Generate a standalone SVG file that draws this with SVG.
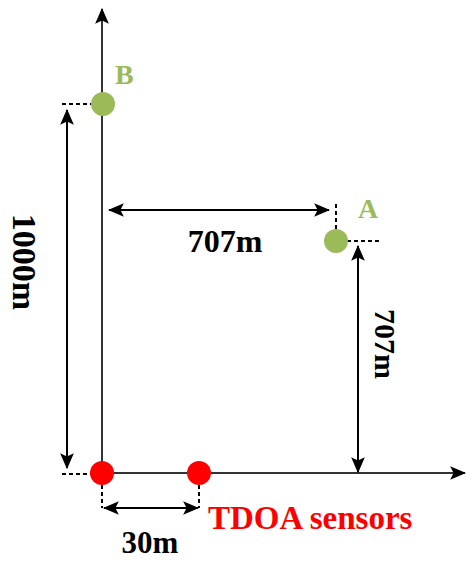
<svg xmlns="http://www.w3.org/2000/svg" width="474" height="564" viewBox="0 0 474 564">
<style>
.axis{stroke:#333;stroke-width:2;fill:none}
.dim{stroke:#000;stroke-width:2;fill:none}
.dash{stroke:#000;stroke-width:2;stroke-dasharray:4,3;fill:none}
.lbl{font-family:"Liberation Serif","Times New Roman",serif;font-weight:bold}
.green{fill:#9BBB59}
.red{fill:#FF0000}
</style>
<defs>
<marker id="ah" markerUnits="userSpaceOnUse" markerWidth="16" markerHeight="16" viewBox="0 0 14 14" refX="13" refY="7" orient="auto-start-reverse">
<path d="M0,1 L14,7 L0,13 L3,7 Z" fill="#000"/>
</marker>
</defs>
<rect width="474" height="564" fill="#fff"/>
<g id="connectors">
<line class="axis" x1="102" y1="473" x2="102" y2="9" marker-end="url(#ah)"/>
<line class="axis" x1="102" y1="473" x2="465" y2="473" marker-end="url(#ah)"/>
<line class="dim" x1="67" y1="110" x2="67" y2="468" marker-start="url(#ah)" marker-end="url(#ah)"/>
<line class="dim" x1="109" y1="210" x2="329" y2="210" marker-start="url(#ah)" marker-end="url(#ah)"/>
<line class="dim" x1="358" y1="246" x2="358" y2="472" marker-start="url(#ah)" marker-end="url(#ah)"/>
<line class="dim" x1="104" y1="508" x2="198" y2="508" marker-start="url(#ah)" marker-end="url(#ah)"/>
<line class="dash" x1="62" y1="104" x2="92" y2="104"/>
<line class="dash" x1="336" y1="204" x2="336" y2="230"/>
<line class="dash" x1="347" y1="241" x2="379" y2="241"/>
<line class="dash" x1="62" y1="474" x2="91" y2="474"/>
<line class="dash" x1="102" y1="485" x2="102" y2="508"/>
<line class="dash" x1="199" y1="485" x2="199" y2="508"/>
</g>
<g id="nodeB">
<circle class="green" cx="103" cy="104" r="12"/>
<text class="lbl green" x="115" y="84" font-size="28">B</text>
</g>
<g id="nodeA">
<circle class="green" cx="336" cy="241" r="12"/>
<text class="lbl green" x="358" y="218" font-size="28">A</text>
</g>
<g id="sensor1">
<circle class="red" cx="102" cy="473" r="12"/>
</g>
<g id="sensor2">
<circle class="red" cx="199" cy="473" r="12"/>
</g>
<g id="labels">
<text class="lbl" x="225" y="252" font-size="32" text-anchor="middle">707m</text>
<text class="lbl" x="150" y="553" font-size="31" text-anchor="middle">30m</text>
<text class="lbl red" x="208" y="529" font-size="33">TDOA sensors</text>
<text class="lbl" transform="translate(13,262) rotate(90)" font-size="34" text-anchor="middle">1000m</text>
<text class="lbl" transform="translate(375,344) rotate(90)" font-size="30" text-anchor="middle">707m</text>
</g>
</svg>
